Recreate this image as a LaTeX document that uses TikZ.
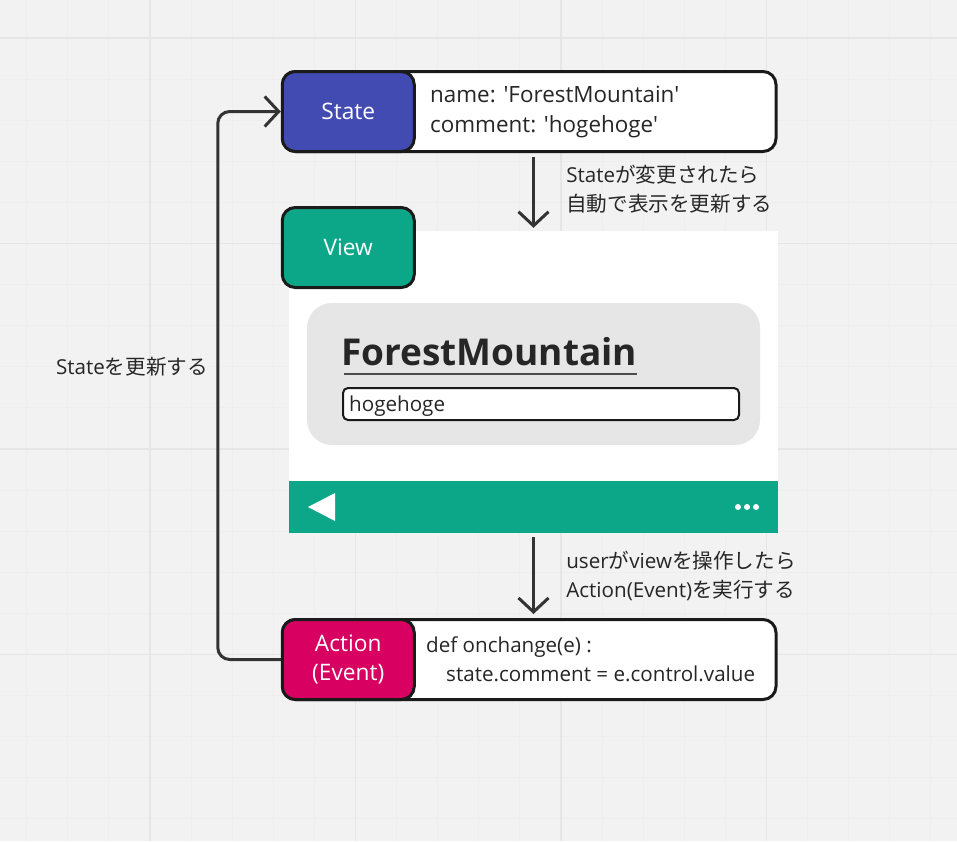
\documentclass[tikz,border=0pt]{standalone}
\usepackage{fontspec}
\setmainfont{Open Sans}
\newfontfamily\jpfont{Noto Sans CJK JP}
\usetikzlibrary{arrows.meta,positioning}

\definecolor{bg}{HTML}{F2F2F2}
\definecolor{gridmajor}{HTML}{E6E6E6}
\definecolor{gridminor}{HTML}{EEEEEE}
\definecolor{stateblue}{HTML}{414BB2}
\definecolor{viewgreen}{HTML}{0CA789}
\definecolor{actionpink}{HTML}{D80060}
\definecolor{linegray}{HTML}{333333}
\definecolor{edge}{HTML}{1A1A1A}
\definecolor{cardgray}{HTML}{E6E6E6}
\definecolor{textgray}{HTML}{262626}

\newcommand{\jp}[1]{{\jpfont #1}}
\newcommand{\sq}{\textquotesingle}

\tikzset{
  headbox/.style={draw=edge, line width=3pt, rounded corners=13pt, minimum width=132pt,
    minimum height=80pt, text=white, align=center, font=\fontsize{22.7}{29}\selectfont},
  bodybox/.style={draw=edge, fill=white, line width=3pt, rounded corners=13pt,
    minimum width=493.5pt, minimum height=80pt},
  bodytext/.style={anchor=west, align=left, inner sep=0pt, text=textgray,
    font=\fontsize{20.6}{29}\selectfont},
  note/.style={align=left, text=textgray, font=\fontsize{20.6}{29}\selectfont},
  flow/.style={draw=linegray, line width=3pt, -{Straight Barb[length=14pt,width=30pt]}},
}

\begin{document}
\begin{tikzpicture}[x=1pt,y=-1pt]
\useasboundingbox (0,0) rectangle (957,841);
\fill[bg] (0,0) rectangle (957,841);
% grid
\foreach \i in {-3,...,19} \draw[gridminor, line width=1pt] ({150+41.1*\i},0) -- ++(0,841);
\foreach \i in {-1,...,19} \draw[gridminor, line width=1pt] (0,{38+41.1*\i}) -- ++(957,0);
\foreach \i in {0,...,3} \draw[gridmajor, line width=1.2pt] ({150+205.5*\i},0) -- ++(0,841);
\foreach \i in {0,...,3} \draw[gridmajor, line width=1.2pt] (0,{38+205.5*\i}) -- ++(957,0);

% State
\node[bodybox] (statebody) at (529.25,111.5) {};
\node[headbox, fill=stateblue] (statehd) at (348.25,111.5) {State};
\node[bodytext, font=\fontsize{22.4}{30}\selectfont] (statetxt) at (430,112)
  {name: \sq ForestMountain\sq\\comment: \sq hogehoge\sq};

% View
\node[fill=white, minimum width=489pt, minimum height=302pt, inner sep=0pt] (viewpanel) at (533.5,382) {};
\node[fill=viewgreen, minimum width=489pt, minimum height=52pt, inner sep=0pt] (viewbar) at (533.5,507) {};
\node[headbox, fill=viewgreen] (viewhd) at (348.25,247.5) {View};
\node[fill=cardgray, rounded corners=25pt, minimum width=453pt, minimum height=142pt] (card) at (533.5,374) {};
\node[anchor=base west, inner sep=0pt, text=textgray, font=\fontsize{37}{40}\selectfont\bfseries] (title) at (341,365) {ForestMountain};
\draw[black!70, line width=2pt] ([xshift=3pt,yshift=-9pt]title.base west) -- ([yshift=-9pt]title.base east);
\node[draw=edge, line width=2pt, fill=white, rounded corners=5pt, minimum width=396pt, minimum height=32pt] (field) at (541,404) {};
\node[anchor=base west, inner sep=0pt, text=textgray, font=\fontsize{20.6}{29}\selectfont] (fieldtxt) at (349,411) {hogehoge};
\fill[white] (308,507) -- (335,493) -- (335,521) -- cycle;
\foreach \dx in {738,747,756} \fill[white] (\dx,507) circle (3pt);

% Action
\node[bodybox] (actionbody) at (529.25,659.5) {};
\node[headbox, fill=actionpink] (actionhd) at (348.25,659.5) {Action\\(Event)};
\node[bodytext] (actiontxt) at (426,659) {def onchange(e) :\\\hspace*{20pt}state.comment = e.control.value};

% connectors
\draw[flow, shorten <=4pt, shorten >=3pt] (statebody.south -| viewpanel.north) -- (viewpanel.north)
  node[midway, right=28pt, yshift=2.5pt, note] {State\jp{が変更されたら}\\\jp{自動で表示を更新する}};
\draw[flow, shorten <=4pt, shorten >=4pt] (viewbar.south) -- (viewbar.south |- actionbody.north)
  node[midway, right=28pt, note] {user\jp{が}view\jp{を操作したら}\\Action(Event)\jp{を実行する}};
\draw[flow, rounded corners=12pt] (actionhd.west) -- ++(-63,0) |- (statehd.west)
  node[pos=0.267, left=5pt, note] {State\jp{を更新する}};
\end{tikzpicture}
\end{document}
